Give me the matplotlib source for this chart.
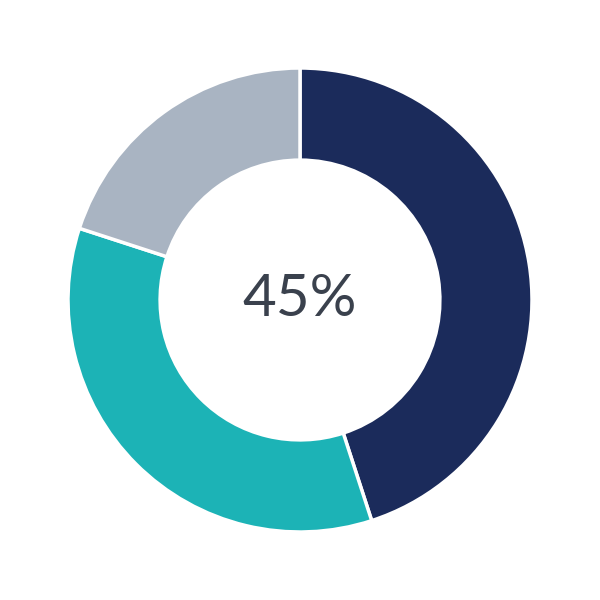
import matplotlib
matplotlib.use("Agg")
import matplotlib.pyplot as plt

labels = ["Navy", "Teal", "Gray"]
shares = [45, 35, 20]
colors = ["#1b2b5b", "#1cb3b6", "#a9b4c2"]
center_text = "45%"

fig = plt.figure(figsize=(6, 6), dpi=100)
ax = fig.add_axes([0, 0, 1, 1])
ax.pie(shares, colors=colors, startangle=90, counterclock=False, radius=1,
       wedgeprops=dict(width=0.397, edgecolor="white", linewidth=2.5))
ax.text(0, 0, center_text, ha="center", va="center", fontsize=42,
        family=["Lato", "DejaVu Sans"], color="#3a414d")
lim = 300 / 232
ax.set_xlim(-lim, lim)
ax.set_ylim(-lim, lim)
ax.set_aspect("equal")
ax.axis("off")
fig.savefig("out.png", dpi=100, facecolor="white")
